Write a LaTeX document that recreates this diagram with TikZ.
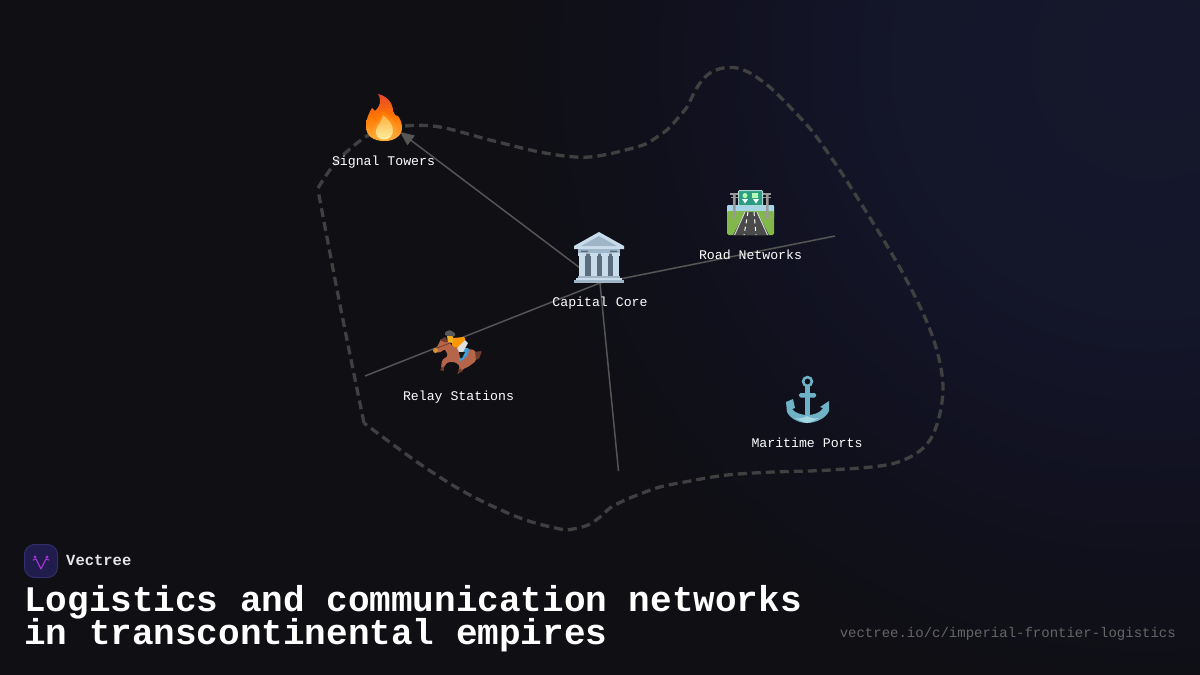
\documentclass[tikz,border=0pt]{standalone}
\usepackage{fontspec}
\setmainfont{Liberation Mono}
\usetikzlibrary{arrows.meta}
\definecolor{bg}{HTML}{0F0F14}
\definecolor{glowa}{HTML}{15172C}
\definecolor{glowb}{HTML}{14162A}
\definecolor{glowc}{HTML}{111120}
\definecolor{blob}{HTML}{404040}
\definecolor{linkc}{HTML}{555555}
\definecolor{flA}{HTML}{E8452C}
\definecolor{flB}{HTML}{FF7A00}
\definecolor{flC}{HTML}{FFF0A0}
\definecolor{flD}{HTML}{FFB040}
\definecolor{bkA}{HTML}{C9DCEC}
\definecolor{bkB}{HTML}{9FB6C9}
\definecolor{bkC}{HTML}{5A6E7E}
\definecolor{bkD}{HTML}{8FA7B8}
\definecolor{anch}{HTML}{6FB2C6}
\definecolor{anchd}{HTML}{5A9FB5}
\definecolor{anchl}{HTML}{A4D6E2}
\definecolor{teal}{HTML}{2C9C84}
\definecolor{sky}{HTML}{A6D5E8}
\definecolor{grass}{HTML}{82B84A}
\definecolor{asphalt}{HTML}{4A4A4A}
\definecolor{post}{HTML}{9A9A9A}
\definecolor{horse}{HTML}{B5654A}
\definecolor{horsed}{HTML}{6E3B2C}
\definecolor{shirt}{HTML}{FF9800}
\definecolor{skin}{HTML}{F2B01E}
\definecolor{saddle}{HTML}{3E9FD8}
\definecolor{logofill}{HTML}{201D4C}
\definecolor{logoline}{HTML}{312E6B}
\definecolor{logomark}{HTML}{A030D0}
\pgfdeclareradialshading{bgglow}{\pgfpointorigin}{color(0bp)=(glowa); color(6bp)=(glowb); color(11bp)=(glowc); color(16bp)=(bg); color(50bp)=(bg)}
\tikzset{
  labeltext/.style={text=white,font=\fontsize{13.2}{15}\selectfont,inner sep=0pt,anchor=base},
  link/.style={draw=linkc,line width=1.5pt},
  region/.style={draw=blob,line width=3.3pt,dash pattern=on 9pt off 5pt,line join=round},
  iconnode/.style={inner sep=0pt,minimum size=1pt},
}
\begin{document}
\begin{tikzpicture}[x=1pt,y=-1pt]
\useasboundingbox (0,0) rectangle (1200,675);
\begin{scope}
\clip (0,0) rectangle (1200,675);
\fill[bg] (0,0) rectangle (1200,675);
\shade[shading=bgglow] (150,-940) rectangle (2150,1060);
\end{scope}
% region
\draw[region] plot[smooth,tension=.55] coordinates {(364,423) (340,305) (318,190)}
 -- (318,190) plot[smooth,tension=.55] coordinates {(318,188) (338,160) (372,133) (405,126) (440,127) (490,140) (545,153) (590,157) (640,146) (657,137) (668,129) (678,118) (687,107) (693,95) (700,83) (710,73) (723,68) (737,68) (750,73) (762,81) (773,90) (793,110) (812,131) (828,153) (850,186) (900,268) (932,335) (943,390) (930,440) (895,463) (830,470) (773,472) (727,475) (690,481) (660,487) (640,494) (623,501) (610,508) (600,517) (588,525) (573,529) (560,529) (520,518) (468,494) (420,464) (364,423)};
% named points
\coordinate (hub) at (600,283);
\coordinate (towerTip) at (400,132);
\coordinate (roadEnd) at (835,236);
\coordinate (relayEnd) at (365,376);
\coordinate (portEnd) at (618.5,471);
\draw[link,-{Triangle[length=14pt,width=12pt,color=linkc]}] (hub) -- (towerTip);
\draw[link] (hub) -- (roadEnd);
\draw[link] (hub) -- (relayEnd);
\draw[link] (hub) -- (portEnd);
% flame
\node[iconnode] (fire) at (383,118) {};
\shade[top color=flA,bottom color=flD,middle color=flB] (385,141) .. controls (373,141) and (366,136) .. (366,126) .. controls (366,119) and (369,113) .. (372,108) .. controls (373,109) and (374,110) .. (375,111) .. controls (380,107) and (382,100) .. (378,94) .. controls (387,96) and (393,103) .. (393,111) -- (395,115) .. controls (396,115) and (397,116) .. (398,116) .. controls (401,120) and (402,124) .. (402,128) .. controls (402,136) and (394,141) .. (385,141) -- cycle;
\shade[top color=flB,bottom color=flD] (384,141) .. controls (375,141) and (371,135) .. (373,129) .. controls (375,123) and (381,119) .. (382,111) .. controls (389,115) and (397,122) .. (397,130) .. controls (397,136) and (391,141) .. (384,141) -- cycle;
\shade[top color=flD,bottom color=flC] (384,139.5) .. controls (378,139.5) and (375,135) .. (376,130) .. controls (377,125) and (382,122) .. (383,115) .. controls (388,119) and (393,124) .. (393,130) .. controls (393,135) and (390,139.5) .. (384,139.5) -- cycle;
% bank
\node[iconnode] (bank) at (599,257) {};
\fill[bkA] (599,232) -- (624,246) -- (624,249) -- (574,249) -- (574,246) -- cycle;
\fill[bkB] (599,236) -- (617,246) -- (581,246) -- cycle;
\fill[bkB] (578,249) rectangle (620,254);
\fill[bkC] (581,250.5) rectangle (588,252) (610,250.5) rectangle (617,252);
\fill[bkC] (585,254) rectangle (614,277);
\foreach \cx in {582,594,605,616}{
  \fill[bkA] (\cx-3,254) rectangle (\cx+3,276);
  \fill[bkA] (\cx-4,253) rectangle (\cx+4,255.5);
}
\fill[bkB] (578,276) rectangle (620,278);
\fill[bkA] (576,278) rectangle (622,280);
\fill[bkB] (574,280) rectangle (624,283);
% road
\node[iconnode] (road) at (750,212) {};
\fill[sky,rounded corners=1pt] (727,205) rectangle (774,218);
\fill[grass,rounded corners=1.5pt] (727,211) -- (774,211) -- (774,235) -- (727,235) -- cycle;
\fill[asphalt] (745,212) -- (757,212) -- (769,235) -- (733,235) -- cycle;
\draw[white!85!black,line width=.9pt] (745,212) -- (734.5,235) (757,212) -- (767.5,235);
\draw[white,line width=1pt,dash pattern=on 4pt off 3.5pt] (748,212) -- (744,235) (754,212) -- (756,235);
\fill[post] (733,193) rectangle (735.5,219) (766,193) rectangle (768.5,219);
\fill[post] (730,193) rectangle (771,195);
\fill[post] (731,197) rectangle (771,198);
\draw[fill=teal,draw=teal!40!white,line width=1pt,rounded corners=1pt] (738.5,190.5) rectangle (762.5,205.5);
\fill[green!30!white] (745,195.5) circle (2.5pt) (752,193) rectangle (758,198);
\fill[white] (742,199) -- (748,199) -- (745,203.5) -- cycle (753,199) -- (759,199) -- (756,203.5) -- cycle;
% horse
\node[iconnode] (horserace) at (458,352) {};
\fill[horsed,rounded corners=1pt] (473,352) -- (482,351) -- (479,359) -- (474,360) -- cycle;
\fill[horse,rounded corners=1.5pt] (435,351) -- (441,339) -- (447,339) -- (453,347) -- (475,350) -- (476,361) -- (468,367) -- (463,369) -- (461,372) -- (458,371) -- (460,366) -- (455,362) -- (448,362) -- (445,365) -- (443,370) -- (441,368) -- (442,360) -- (448,356) -- (445,349) -- (439,353) -- cycle;
\fill[horsed] (440,370) -- (443.5,366) -- (444,371) -- cycle (457,374) -- (460,368) -- (463,371) -- cycle;
\fill[horsed] (440,340) -- (445,337) -- (449,342) -- (444,342) -- cycle;
\fill[skin!60!horse] (435.5,350.5) circle (2.5pt);
\draw[horsed,line width=.7pt] (437,348) -- (450,343);
\fill[saddle,rounded corners=1pt] (463,348) -- (469,348) -- (468,355) -- (460,362) -- (459,357) -- cycle;
\fill[shirt,rounded corners=1pt] (452,338) -- (465,337) -- (465,343) -- (457,348) -- (452,346) -- cycle;
\fill[skin] (447,336) -- (453,336) -- (453,343) -- (448,342) -- cycle;
\fill[gray!70!black,rounded corners=1pt] (445,335.5) -- (445,332) -- (450,330) -- (455,333) -- (455,336.5) -- cycle;
\fill[gray!25] (457,348) -- (465,340) -- (468,343) -- (463,352) -- (459,352) -- cycle;
\fill[gray!20!black] (459,352) -- (465,352) -- (462,358) -- (460,358) -- cycle;
% anchor
\node[iconnode] (anchor) at (807,400) {};
\draw[anch,line width=2.6pt] (807.5,381.5) circle (4.4pt);
\fill[anch] (804.8,386) rectangle (810.2,420);
\fill[anch,rounded corners=1.5pt] (799,393) rectangle (816,397.5);
\fill[anch] (786,402) -- (793,399) -- (795,408) -- (792,409) .. controls (795,413) and (800,414) .. (805,415) -- (810,415) .. controls (815,414) and (820,413) .. (823,408) -- (820,407) -- (829,401) -- (829,411) .. controls (826,418) and (816,423) .. (807,423) .. controls (798,423) and (790,418) .. (787,412) -- cycle;
\fill[anchl] (795,418) .. controls (800,421) and (804,422) .. (807,423) .. controls (810,422) and (814,421) .. (819,418) .. controls (814,419) and (811,418) .. (807,416) .. controls (803,418) and (800,419) .. (795,418) -- cycle;
% labels
\node[labeltext] (towers) at (383.5,165) {Signal Towers};
\node[labeltext] (capital) at (600,306) {Capital Core};
\node[labeltext] (roads) at (750.5,259) {Road Networks};
\node[labeltext] (relay) at (458.5,400) {Relay Stations};
\node[labeltext] (ports) at (807,447) {Maritime Ports};
% logo
\node[iconnode] (logo) at (41,561) {};
\draw[fill=logofill,draw=logoline,line width=1pt,rounded corners=10pt] (24.5,544.5) rectangle (57.5,577.5);
\draw[logomark,line width=1.2pt,line cap=round,line join=round] (36,559) -- (41,569) -- (46,559) (36,559) -- (33,560) (46,559) -- (49,560);
\fill[logomark] (35,557) circle (1.6pt) (47,557) circle (1.6pt);
\node[inner sep=0pt,anchor=base west,text=white!90!black,font=\fontsize{15.5}{18}\selectfont\bfseries] (brand) at (66,565) {Vectree};
\node[inner sep=0pt,anchor=base west,text=white,font=\fontsize{36}{33}\selectfont\bfseries] (title1) at (24,611) {Logistics and communication networks};
\node[inner sep=0pt,anchor=base west,text=white,font=\fontsize{36}{33}\selectfont\bfseries] (title2) at (24,644) {in transcontinental empires};
\node[inner sep=0pt,anchor=base east,text=white!40!black,font=\fontsize{14}{16}\selectfont] (url) at (1176,637) {vectree.io/c/imperial-frontier-logistics};
\end{tikzpicture}
\end{document}
